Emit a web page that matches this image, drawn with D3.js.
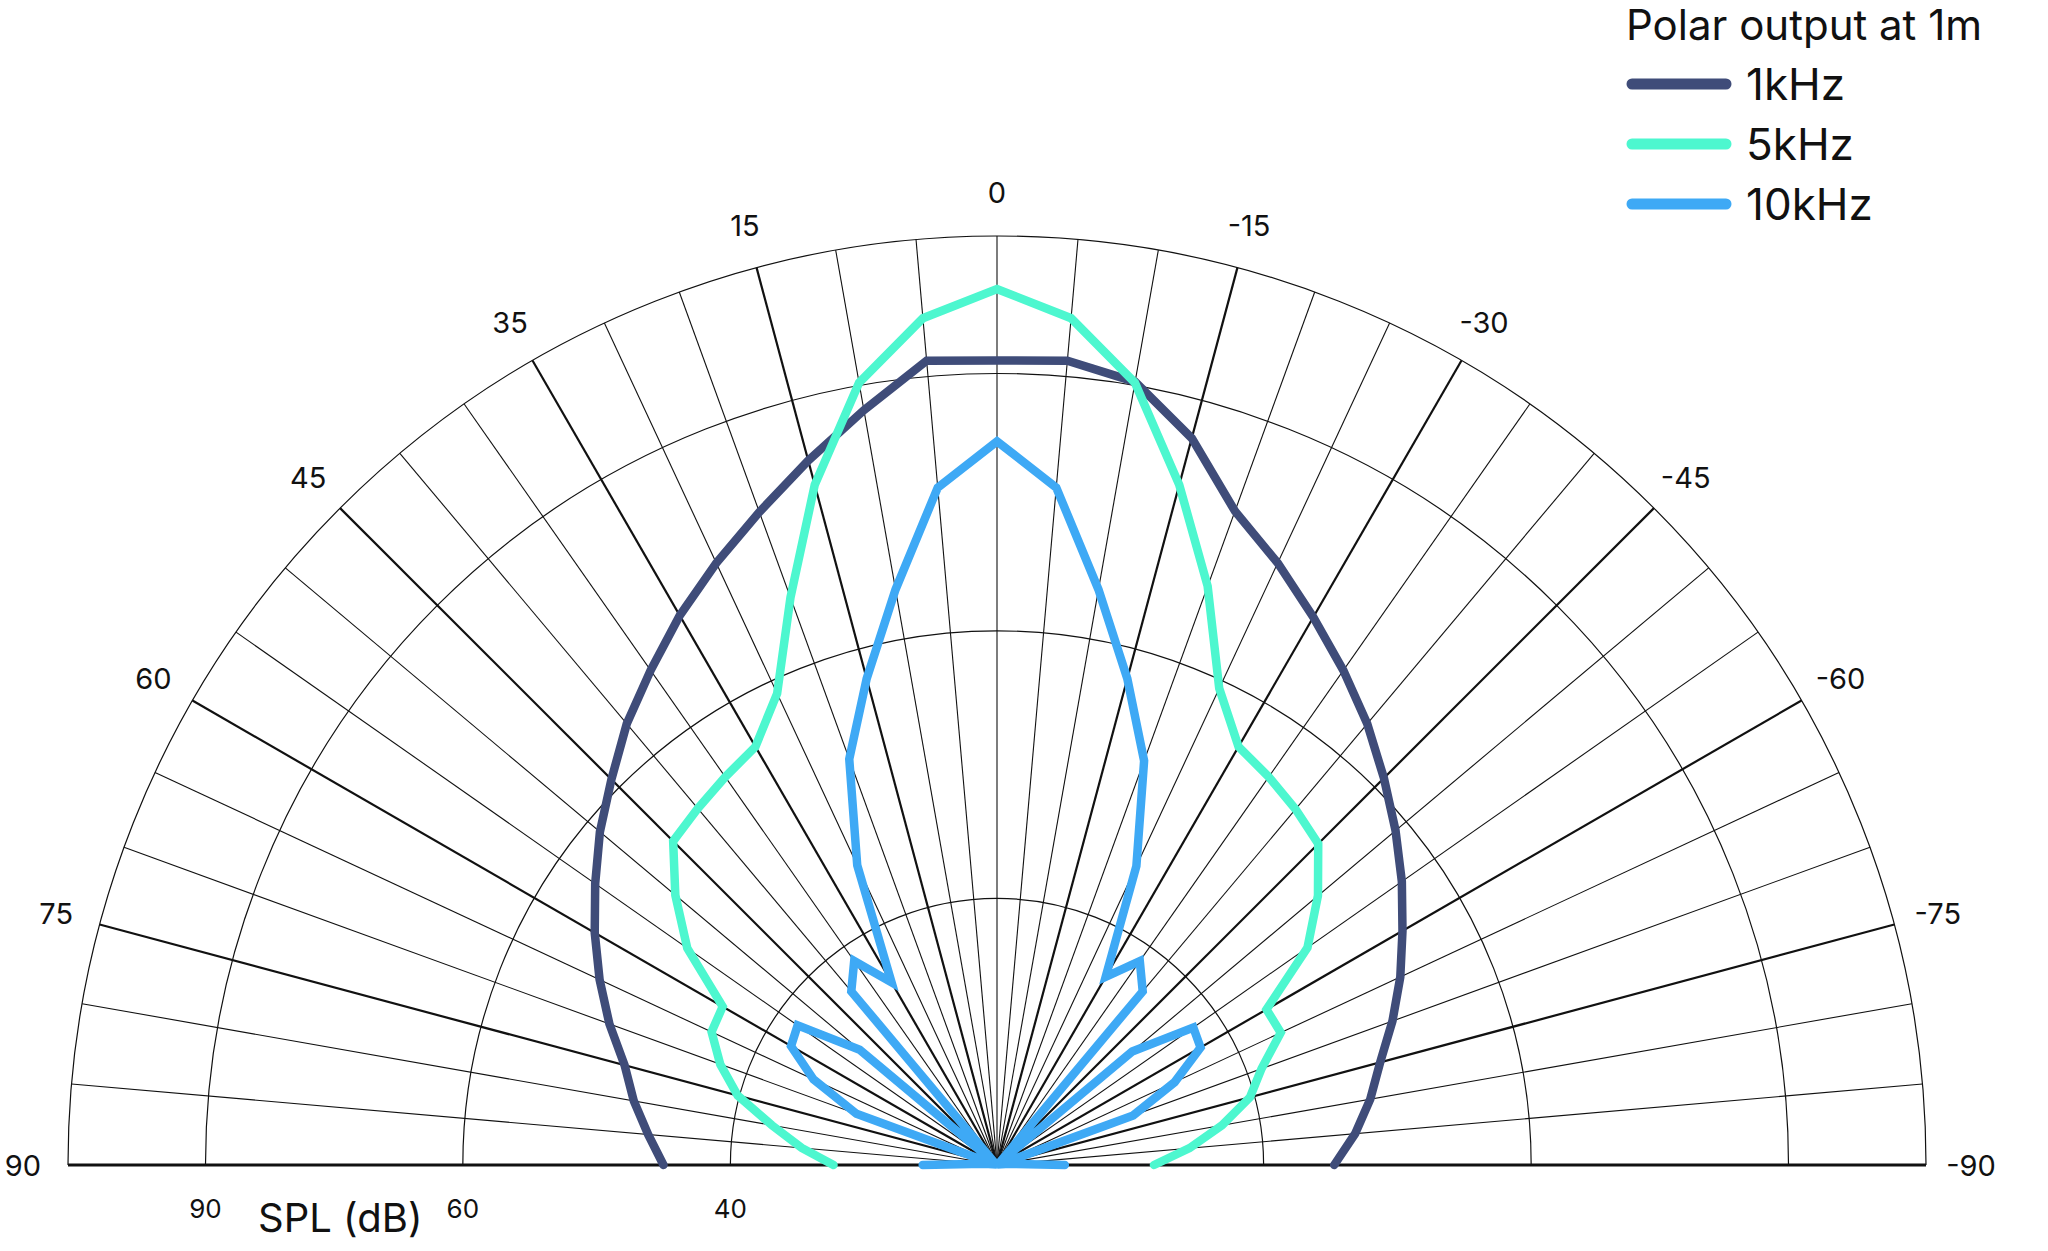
<!DOCTYPE html>
<html>
<head>
<meta charset="utf-8">
<script src="https://cdn.jsdelivr.net/npm/d3@7"></script>
<style>
  body { margin: 0; background: #fff; }
  text { font-family: Inter, "Open Sans", sans-serif; fill: #111; }
</style>
</head>
<body>
<script>
'use strict';

// angles in degrees, 0 = on-axis (top), positive to the left
var angles = [90, 85, 80, 75, 70, 65, 60, 55, 50, 45, 40, 35, 30, 25, 20, 15, 10, 5, 0,
    -5, -10, -15, -20, -25, -30, -35, -40, -45, -50, -55, -60, -65, -70, -75, -80, -85, -90];

// levels on the chart's radial axis (0 = centre, 100 = outer ring)
var level1k = [35.9, 37.7, 39.7, 41.5, 44.4, 47.2, 50.0, 52.8, 55.8, 58.7, 62.0, 65.0, 68.3, 71.5, 74.8, 78.5, 82.5, 86.9, 86.6,
    86.9, 85.6, 81.0, 74.9, 71.5, 68.1, 65.0, 62.0, 58.9, 56.0, 53.2, 50.4, 47.9, 45.3, 42.7, 40.8, 38.7, 36.3];
var level5k = [17.6, 21.1, 24.6, 28.9, 31.7, 33.9, 34.1, 40.7, 45.2, 49.3, 50.1, 51.0, 52.0, 56.0, 65.0, 75.8, 85.5, 91.5, 94.3,
    91.5, 85.5, 75.8, 66.3, 56.6, 52.0, 51.0, 50.0, 48.9, 45.1, 40.8, 33.5, 33.7, 30.3, 28.2, 24.6, 20.8, 16.9];
var level10k = [8.0, 1.4, 0.4, 0.4, 16.1, 21.8, 25.6, 26.2, 19.3, 0.4, 24.4, 26.8, 22.7, 35.6, 46.5, 54.2, 62.9, 73.2, 77.9,
    73.2, 62.9, 54.2, 46.3, 35.5, 23.4, 26.8, 24.4, 0.4, 19.0, 25.8, 25.3, 21.1, 15.6, 0.4, 0.4, 1.4, 7.3];

var seriesNames = ['1kHz', '5kHz', '10kHz'];
var seriesColors = ['#3f4c79', '#4df7cf', '#3ea9f5'];
var seriesLevels = [level1k, level5k, level10k];

var angleTicks = [90, 75, 60, 45, 30, 15, 0, -15, -30, -45, -60, -75, -90];
var angleTickLabels = ['90', '75', '60', '45', '35', '15', '0', '-15', '-30', '-45', '-60', '-75', '-90'];
var ringLevels = [28.7, 57.5, 85.2, 100];
var ringLabels = ['40', '60', '90', ''];

var width = 2048, height = 1251;
var cx = 997, cy = 1165, R = 929;

var svg = d3.select('body').append('svg')
    .attr('width', width)
    .attr('height', height);

var r = d3.scaleLinear().domain([0, 100]).range([0, R]);
// degrees -> radians for d3.lineRadial (0 at top, clockwise positive), our positive goes left
var a = d3.scaleLinear().domain([90, -90]).range([-Math.PI / 2, Math.PI / 2]);

var g = svg.append('g').attr('transform', 'translate(' + cx + ',' + cy + ')');

// rings
g.selectAll('.ring')
    .data(ringLevels)
    .enter()
    .append('path')
    .attr('d', function (d) {
        return d3.arc()({innerRadius: r(d), outerRadius: r(d), startAngle: -Math.PI / 2, endAngle: Math.PI / 2});
    })
    .style('fill', 'none')
    .style('stroke', '#111')
    .style('stroke-width', 1.2);

// spokes
g.selectAll('.spoke')
    .data(angles)
    .enter()
    .append('line')
    .attr('x1', 0).attr('y1', 0)
    .attr('x2', function (d) { return R * Math.sin(a(d)); })
    .attr('y2', function (d) { return -R * Math.cos(a(d)); })
    .style('stroke', '#111')
    .style('stroke-width', function (d) {
        if (Math.abs(d) === 90) return 3;
        return (d !== 0 && d % 15 === 0) ? 2.2 : 1.1;
    });

// angle labels
g.selectAll('.alabel')
    .data(angleTicks)
    .enter()
    .append('text')
    .attr('x', function (d) { return (R + 45) * Math.sin(a(d)); })
    .attr('y', function (d) { return -(R + 44) * Math.cos(a(d)); })
    .attr('text-anchor', 'middle')
    .attr('dominant-baseline', 'central')
    .style('font-size', '29px')
    .text(function (d, i) { return angleTickLabels[i]; });

// ring labels under the baseline
g.selectAll('.rlabel')
    .data(ringLevels)
    .enter()
    .append('text')
    .attr('x', function (d) { return -r(d); })
    .attr('y', 43)
    .attr('text-anchor', 'middle')
    .attr('dominant-baseline', 'central')
    .style('font-size', '26px')
    .text(function (d, i) { return ringLabels[i]; });

svg.append('text')
    .attr('x', 258).attr('y', 1232)
    .style('font-size', '40px')
    .text('SPL (dB)');

// curves
var line = d3.lineRadial()
    .angle(function (d) { return a(d[0]); })
    .radius(function (d) { return r(d[1]); });

g.selectAll('.curve')
    .data(seriesLevels)
    .enter()
    .append('path')
    .attr('d', function (levels) {
        return line(d3.zip(angles, levels));
    })
    .style('fill', 'none')
    .style('stroke', function (d, i) { return seriesColors[i]; })
    .style('stroke-width', 8.5)
    .style('stroke-linejoin', 'miter')
    .style('stroke-linecap', 'round');

// legend
var legend = svg.append('g').attr('transform', 'translate(1626,0)');
legend.append('text')
    .attr('x', 0).attr('y', 40)
    .style('font-size', '42px')
    .text('Polar output at 1m');

var item = legend.selectAll('.item')
    .data(seriesNames)
    .enter()
    .append('g')
    .attr('transform', function (d, i) { return 'translate(0,' + (84 + i * 60) + ')'; });
item.append('line')
    .attr('x1', 6).attr('x2', 100)
    .style('stroke', function (d, i) { return seriesColors[i]; })
    .style('stroke-width', 11)
    .style('stroke-linecap', 'round');
item.append('text')
    .attr('x', 120).attr('y', 0)
    .attr('dominant-baseline', 'central')
    .style('font-size', '44px')
    .text(function (d) { return d; });
</script>
</body>
</html>
